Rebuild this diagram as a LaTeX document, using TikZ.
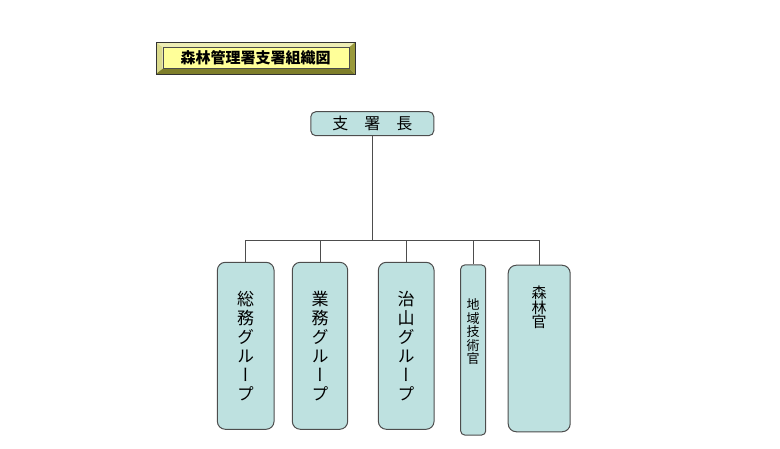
\documentclass[tikz,border=0pt]{standalone}
\usepackage{fontspec}
\newfontfamily\jpfont{Noto Sans CJK JP}
\newfontfamily\jptate[RawFeature=+vert]{Noto Sans CJK JP}
\usepackage{tikz}
\usetikzlibrary{positioning}
\definecolor{boxteal}{HTML}{BEE1E0}
\definecolor{edgegray}{HTML}{4D4D4D}
\definecolor{titleface}{HTML}{FFFF99}
\definecolor{bevellight}{HTML}{EDEDB4}
\definecolor{bevelside}{HTML}{DADA8C}
\definecolor{beveldark}{HTML}{9A9A3C}
\definecolor{bevelbottom}{HTML}{7E7E2A}
\tikzset{
  unit/.style={draw=edgegray, line width=1pt, fill=boxteal, rounded corners=8pt, inner sep=0pt, align=center},
  tate/.style={font=\jptate\fontsize{17}{19}\selectfont, align=center, inner sep=0pt},
  wire/.style={draw=edgegray, line width=0.8pt}
}

\begin{document}
\begin{tikzpicture}[x=1pt,y=-1pt]
    \useasboundingbox (0,0) rectangle (780,449);
    % title plate
    \fill[bevellight] (156,42.3) -- (355,42.3) -- (349.3,47.3) -- (162.7,47.3) -- cycle;
    \fill[bevelside] (156,42.3) -- (162.7,47.3) -- (162.7,68.7) -- (156,74) -- cycle;
    \fill[beveldark] (355,42.3) -- (355,74) -- (349.3,68.7) -- (349.3,47.3) -- cycle;
    \fill[bevelbottom] (156,74) -- (355,74) -- (349.3,68.7) -- (162.7,68.7) -- cycle;
    \draw[fill=titleface, draw=black!70, line width=0.4pt] (162.7,47.3) rectangle (349.3,68.7);
    \draw[black!80, line width=0.6pt] (156,42.3) rectangle (355,74);
    \node (title) at (255.5,58) {\jpfont\fontsize{15}{15}\selectfont\bfseries 森林管理署支署組織図};

    \node[unit, rounded corners=5pt, minimum width=123pt, minimum height=24pt, font=\jpfont\fontsize{16}{16}\selectfont] (boss) at (372.3,123.7) {支　署　長};

    \node[unit, minimum width=56.7pt, minimum height=167pt] (soumu) at (245.7,345.8) {};
    \node[unit, minimum width=55.4pt, minimum height=167pt] (gyoumu) at (320,345.8) {};
    \node[unit, minimum width=55.7pt, minimum height=167pt] (chisan) at (406.2,345.8) {};
    \node[unit, rounded corners=4pt, minimum width=25pt, minimum height=170pt] (chiiki) at (473.2,350) {};
    \node[unit, minimum width=62pt, minimum height=166.5pt] (shinrin) at (539.2,348.5) {};

    \node[tate] (soumutxt) at (soumu) {総\\務\\グ\\ル\\ー\\プ};
    \node[tate] (gyoumutxt) at (gyoumu) {業\\務\\グ\\ル\\ー\\プ};
    \node[tate] (chisantxt) at (chisan) {治\\山\\グ\\ル\\ー\\プ};
    \node[tate, font=\jptate\fontsize{13}{13.5}\selectfont, below=34pt of chiiki.north] (chiikitxt) {地\\域\\技\\術\\官};
    \node[tate, font=\jptate\fontsize{15}{14.5}\selectfont, below=21pt of shinrin.north] (shinrintxt) {森\\林\\官};

    \coordinate (bus) at (372.3,240.7);
    \draw[wire] (boss.south) -- (bus);
    \foreach \c in {soumu,gyoumu,chisan,chiiki,shinrin}
        \draw[wire] (bus) -| (\c.north);
\end{tikzpicture}
\end{document}
